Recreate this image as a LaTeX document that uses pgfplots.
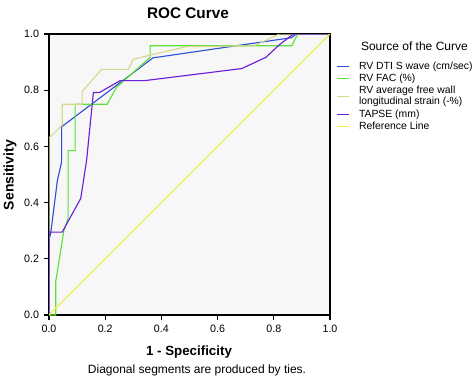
\documentclass[border=0pt]{standalone}
\usepackage{fontspec}
\setmainfont{Liberation Sans}
\usepackage{pgfplots}
\pgfplotsset{compat=1.18}
\definecolor{cblue}{HTML}{3050D8}
\definecolor{cgreen}{HTML}{5EE03A}
\definecolor{ckhaki}{HTML}{D6D88E}
\definecolor{cpurple}{HTML}{6A20D6}
\definecolor{cref}{HTML}{F0F050}
\definecolor{bgg}{HTML}{F7F7F7}
\begin{document}
\begin{tikzpicture}
\path[use as bounding box] (-36.75pt,-51pt) rectangle (318.75pt,236.25pt);
\begin{axis}[
  at={(0pt,0pt)}, anchor=origin,
  scale only axis, width=210.75pt, height=210.75pt,
  xmin=0, xmax=1, ymin=0, ymax=1,
  axis background/.style={fill=bgg},
  axis line style={black, line width=0.8pt},
  xtick={0,0.2,0.4,0.6,0.8,1.0}, ytick={0,0.2,0.4,0.6,0.8,1.0},
  tick align=outside, tick pos=left, major tick length=4pt,
  tick style={black, line width=0.8pt},
  /pgf/number format/assume math mode=true,
  /pgf/number format/.cd, fixed, fixed zerofill, precision=1, /pgfplots/.cd,
  tick label style={font=\fontsize{8}{9}\selectfont},
  legend style={at={(215.25pt,191.5pt)}, anchor=north west, draw=none, fill=none,
    font=\fontsize{7.8}{8.2}\selectfont, row sep=-0.3pt, inner sep=0pt,
    nodes={inner sep=1.2pt, align=left}},
  legend cell align=left,
  legend image code/.code={\draw[#1] (0pt,0pt) -- (9pt,0pt);},
]
\addplot[cblue, line width=0.85pt] coordinates {
(0,0) (0,0.27) (0.006,0.29) (0.03,0.48) (0.045,0.545) (0.045,0.67)
(0.37,0.915) (0.864,0.987) (0.88,1.0) (1,1)};
\addlegendentry{\hspace{6pt}RV DTI S wave (cm/sec)}
\addplot[cgreen, line width=0.85pt] coordinates {
(0,0) (0.024,0) (0.024,0.12) (0.053,0.30) (0.068,0.345) (0.068,0.585)
(0.093,0.585) (0.093,0.75) (0.207,0.75) (0.24,0.81) (0.36,0.917)
(0.36,0.958) (0.864,0.958) (0.885,1.0) (1,1)};
\addlegendentry{\hspace{6pt}RV FAC (\%)}
\addplot[ckhaki, line width=0.85pt] coordinates {
(0,0) (0,0.63) (0.047,0.676) (0.047,0.75) (0.118,0.75) (0.118,0.795)
(0.187,0.874) (0.282,0.874) (0.30,0.91) (0.36,0.925) (0.49,0.955)
(0.73,0.958) (0.82,1.0) (1,1)};
\addlegendentry{\hspace{6pt}RV average free wall\\\hspace{6pt}longitudinal strain (-\%)}
\addplot[cpurple, line width=0.85pt] coordinates {
(0,0) (0,0.295) (0.047,0.295) (0.113,0.415) (0.134,0.552) (0.158,0.792)
(0.18,0.792) (0.253,0.834) (0.34,0.834) (0.686,0.877) (0.772,0.917)
(0.82,0.962) (0.87,1.0) (1,1)};
\addlegendentry{\hspace{6pt}TAPSE (mm)}
\addplot[cref, line width=0.85pt] coordinates {(0,0) (1,1)};
\addlegendentry{\hspace{6pt}Reference Line}
\end{axis}
\node[font=\bfseries\fontsize{11.5}{13}\selectfont] at (104.25pt,226.5pt) {ROC Curve};
\node[font=\bfseries\fontsize{10}{12}\selectfont] at (105pt,-27.75pt) {1 - Specificity};
\node[font=\fontsize{9}{11}\selectfont] at (111pt,-41.25pt) {Diagonal segments are produced by ties.};
\node[font=\bfseries\fontsize{10.5}{12}\selectfont, rotate=90] at (-29.25pt,105pt) {Sensitivity};
\node[font=\fontsize{9}{10}\selectfont, anchor=west] at (230.5pt,201.5pt) {Source of the Curve};
\end{tikzpicture}
\end{document}
